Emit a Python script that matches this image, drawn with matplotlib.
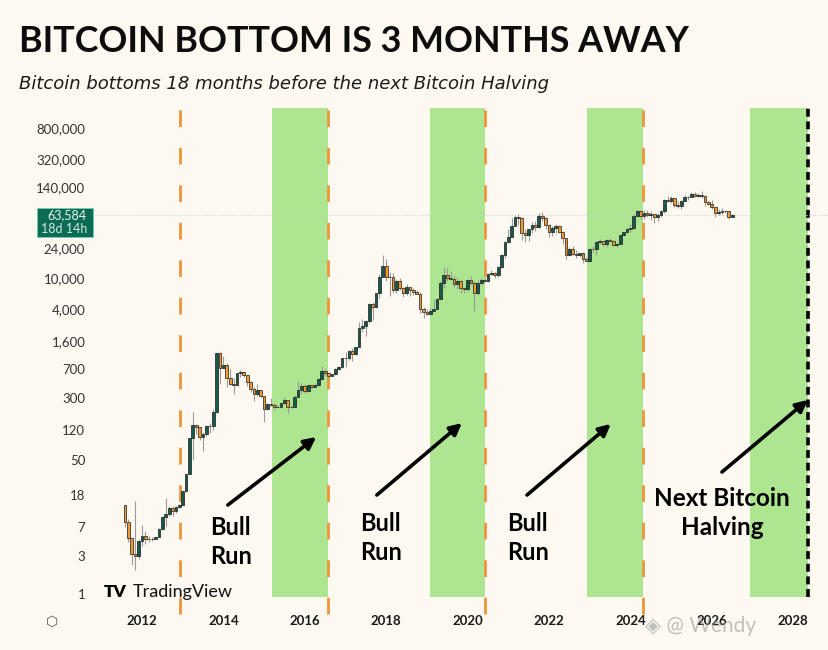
import numpy as np
import matplotlib.pyplot as plt
from matplotlib.patches import Rectangle

# Monthly BTC candles, Aug 2011 .. Jul 2026
first_open = 13.4
closes = [
    8.2, 5.1, 3.2, 3.0, 4.7,
    5.5, 4.9, 4.9, 5.0, 5.2, 6.7, 9.4, 10.2, 12.4, 11.2, 12.6, 13.5,
    20.4, 33.4, 93, 139, 129, 97, 106, 135, 133, 204, 1129, 732,
    800, 550, 457, 448, 628, 640, 586, 481, 388, 338, 378, 320,
    217, 254, 244, 236, 230, 263, 284, 230, 236, 314, 377, 430,
    368, 437, 416, 448, 531, 673, 624, 573, 609, 698, 742, 963,
    970, 1190, 1080, 1348, 2300, 2480, 2875, 4703, 4338, 6468, 10233, 14156,
    10221, 10397, 6973, 9240, 7494, 6404, 7780, 7037, 6625, 6318, 4017, 3742,
    3457, 3854, 4105, 5350, 8574, 10817, 10085, 9630, 8293, 9199, 7569, 7193,
    9350, 8599, 6438, 8658, 9461, 9137, 11323, 11680, 10784, 13781, 19713, 28990,
    33114, 45137, 58918, 57750, 37332, 35040, 41626, 47166, 43790, 61318, 57005, 46306,
    38483, 43193, 45538, 37714, 31792, 19785, 23336, 20050, 19431, 20495, 17168, 16547,
    23139, 23147, 28478, 29268, 27219, 30477, 29230, 25931, 26967, 34667, 37712, 42265,
    42582, 61198, 71333, 60636, 67491, 62678, 64619, 58969, 63329, 70215, 96449, 93429,
    102405, 84373, 82548, 94207, 104638, 107135, 115758, 108236, 114056, 109556, 90400, 87500,
    78600, 66000, 68500, 71000, 70000, 60000, 63584,
]
highs = [
    13.5, 8.9, 5.0, 15.0, 4.9,
    7.4, 6.2, 5.4, 5.3, 5.2, 6.9, 9.7, 16.4, 12.9, 12.9, 12.9, 13.9,
    20.4, 33.4, 95, 200, 140, 130, 111, 139, 145, 220, 1163, 1163,
    1020, 830, 710, 540, 630, 680, 655, 600, 500, 420, 460, 385,
    320, 265, 300, 262, 248, 267, 316, 285, 245, 330, 500, 465,
    460, 440, 440, 467, 550, 780, 700, 630, 612, 720, 760, 975,
    1160, 1210, 1290, 1350, 2760, 2990, 2900, 4770, 5000, 6460, 11400, 19800,
    17200, 11800, 11700, 9750, 9990, 7780, 8500, 7760, 7400, 6950, 6580, 4300,
    4100, 4200, 5450, 5650, 9080, 13880, 13200, 12330, 10900, 10370, 9520, 7750,
    9580, 10500, 9190, 9480, 10080, 10400, 11450, 12480, 12080, 14100, 19860, 29300,
    41900, 58300, 61700, 64900, 59500, 41300, 42300, 50500, 52900, 67000, 69000, 59000,
    47900, 45800, 48200, 47400, 39900, 31900, 24600, 25200, 22700, 21000, 21400, 18400,
    23900, 25200, 29200, 30900, 29800, 31400, 31800, 30000, 27500, 35200, 38400, 44700,
    48900, 63900, 73800, 72800, 71900, 72000, 70000, 65100, 66500, 73600, 99600, 108300,
    109400, 102500, 95000, 95800, 111900, 110500, 123200, 124400, 117900, 126200, 111000, 94500,
    97900, 79500, 74000, 76000, 73000, 71000, 64500,
]
lows = [
    7.0, 4.6, 2.3, 2.0, 2.8,
    4.1, 4.3, 4.5, 4.7, 4.9, 5.2, 6.4, 7.2, 9.7, 9.7, 10.5, 12.2,
    13.3, 19.6, 33, 50, 105, 88, 65, 100, 110, 118, 197, 455,
    750, 420, 440, 340, 430, 555, 565, 430, 360, 275, 320, 310,
    152, 212, 240, 214, 230, 223, 253, 198, 228, 236, 308, 345,
    355, 365, 410, 415, 440, 527, 570, 537, 588, 600, 680, 735,
    750, 920, 890, 1060, 1350, 2080, 1830, 2700, 2960, 4140, 5600, 10800,
    9200, 6000, 6430, 6430, 7030, 5770, 6100, 5900, 6100, 6200, 3600, 3120,
    3370, 3390, 3850, 4100, 5330, 7450, 9100, 9370, 7740, 7300, 6520, 6420,
    6850, 8450, 3850, 6150, 8110, 8900, 9000, 11000, 9880, 10400, 13200, 18000,
    28100, 33400, 45000, 47000, 30000, 28800, 29300, 37300, 39600, 43300, 53300, 42000,
    33000, 34300, 37200, 37600, 26700, 17600, 18800, 19600, 18150, 18200, 15500, 16300,
    16500, 21400, 19600, 26900, 25800, 24800, 28900, 25300, 24900, 26600, 34100, 37600,
    38500, 41900, 59000, 56500, 56600, 58400, 53500, 49000, 52600, 58900, 67500, 90500,
    89200, 78200, 76600, 74400, 93400, 98200, 105100, 107300, 107300, 103500, 80600, 84400,
    74500, 60000, 63000, 65000, 66000, 56000, 59000,
]
start_year, start_month = 2011, 8

halvings = [2012.93, 2016.58, 2020.42, 2024.32]
next_halving = 2028.36
bull_spans = [(2015.19, 2016.58), (2019.08, 2020.42), (2022.93, 2024.32), (2026.94, 2028.36)]

ytick_vals = [1, 3, 7, 18, 50, 120, 300, 700, 1600, 4000, 10000, 24000, 140000, 320000, 800000]
xtick_years = [2012, 2014, 2016, 2018, 2020, 2022, 2024, 2026, 2028]
last_price = 63584

bg = '#fdf9f1'
up_col = '#17594a'
down_col = '#f39a35'

plt.rcParams['font.family'] = ['Lato', 'DejaVu Sans']

fig = plt.figure(figsize=(8.29, 6.5), dpi=100, facecolor=bg)
W, H = 829, 650
ax = fig.add_axes([95 / W, 53 / H, 734 / W, 489 / H])
ax.set_facecolor(bg)
ax.set_yscale('log')
ax.set_xlim(2010.845, 2028.88)
ax.set_ylim(0.916, 1.42e6)

# green "bull run" windows
for a, b in bull_spans:
    ax.axvspan(a, b, color='#ade591', lw=0, zorder=0)

# halving lines
for h in halvings:
    ax.plot([h, h], [-0.035, 1.035], transform=ax.get_xaxis_transform(), clip_on=False,
            color='#f0943a', lw=2, dashes=(6, 7.5), zorder=1)
ax.plot([next_halving, next_halving], [0, 1], transform=ax.get_xaxis_transform(),
        color='black', lw=2.6, dashes=(2.2, 1.3), zorder=1)

# last price line
ax.axhline(last_price, color='#cfcfcf', lw=0.8, ls=(0, (1, 1.5)), zorder=1)

# candles
n = len(closes)
opens = [first_open] + closes[:-1]
xs = np.array([start_year + (start_month - 1 + i) / 12 for i in range(n)])
o = np.array(opens)
c = np.array(closes)
ax.vlines(xs, lows, highs, color='#9a9a9a', lw=0.8, zorder=2)
cols = [up_col if cc >= oo else down_col for oo, cc in zip(o, c)]
bottoms = np.minimum(o, c)
heights = np.maximum(np.abs(c - o), bottoms * 0.012)
ax.bar(xs, heights, bottom=bottoms, width=0.068, color=cols, edgecolor='#1a1a1a',
       linewidth=0.5, zorder=3)

# axes styling
for s in ax.spines.values():
    s.set_visible(False)
ax.set_yticks(ytick_vals)
ax.set_yticklabels([f'{v:,}' for v in ytick_vals])
ax.yaxis.set_minor_locator(plt.NullLocator())
ax.set_xticks(xtick_years)
ax.set_xticklabels([str(y) for y in xtick_years], fontweight='bold')
ax.tick_params(axis='y', length=0, pad=7, labelsize=9.5, labelcolor='#333333')
ax.tick_params(axis='x', length=0, pad=13, labelsize=9.5, labelcolor='#1a1a1a')

# price label box
fig.patches.append(Rectangle((37 / W, 1 - 237 / H), 56 / W, 29 / H, transform=fig.transFigure,
                             facecolor='#0c6b55', edgecolor='#6fd0b0', lw=0.6))
fig.text(87 / W, 1 - 215 / H, f'{last_price:,}', color='#e8f5ef', fontsize=9, ha='right', va='center')
fig.text(87 / W, 1 - 229 / H, '18d 14h', color='#d0e8df', fontsize=9, ha='right', va='center')

# arrows & labels
arrow_kw = dict(arrowstyle='-|>,head_length=0.7,head_width=0.35', color='black', lw=2.6,
                shrinkA=0, shrinkB=0)
arrows = [((2014.11, 13.4), (2016.28, 97)),
          ((2017.77, 17.9), (2019.86, 146)),
          ((2021.46, 17.9), (2023.52, 142)),
          ((2026.25, 35), (2028.36, 286))]
for tail, head in arrows:
    ax.annotate('', xy=head, xytext=tail, arrowprops=arrow_kw, zorder=5)

for x, y in [(2013.67, 4.55), (2017.36, 5.1), (2020.97, 5.1)]:
    ax.text(x, y, 'Bull\nRun', fontsize=17, fontweight='bold', ha='left', va='center',
            linespacing=1.3, zorder=5)
ax.text(2026.25, 10.6, 'Next Bitcoin\nHalving', fontsize=17.5, fontweight='bold', ha='center',
        va='center', linespacing=1.3, zorder=5)

# titles
fig.text(19 / W, 1 - 42 / H, 'BITCOIN BOTTOM IS 3 MONTHS AWAY', fontsize=25.8, fontweight='bold',
         ha='left', va='center', color='#0d0d0d')
fig.text(19 / W, 1 - 84 / H, 'Bitcoin bottoms 18 months before the next Bitcoin Halving',
         fontsize=13.0, style='italic', ha='left', va='center', color='#1a1a1a',
         family=['DejaVu Sans'])

# TradingView mark, settings icon, watermark
fig.text(104 / W, 1 - 592 / H, 'TV', fontsize=12.5, fontweight='heavy', ha='left', va='center')
fig.text(133 / W, 1 - 592 / H, 'TradingView', fontsize=13, ha='left', va='center', color='#111111')
fig.text(52 / W, 1 - 622 / H, '\u2b21', fontsize=10, ha='center', va='center', color='#555555',
         family=['DejaVu Sans'])
fig.text(645 / W, 1 - 626 / H, '\u25c8 @ Wendy', fontsize=15, ha='left', va='center',
         color='#9a9a9a', alpha=0.6, family=['Lato', 'DejaVu Sans'], zorder=10)

fig.savefig('out.png', dpi=100, facecolor=bg)
